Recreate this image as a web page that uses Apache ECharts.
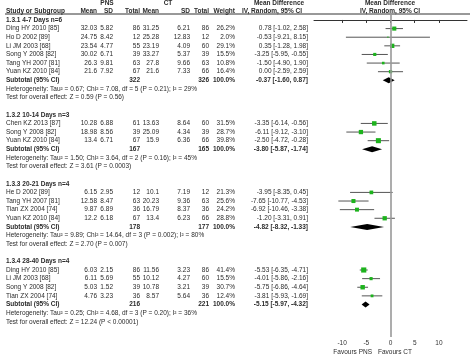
<!DOCTYPE html>
<html><head><meta charset="utf-8">
<script src="https://cdn.jsdelivr.net/npm/echarts@6/dist/echarts.min.js"></script>
<style>html,body{margin:0;padding:0;background:#fff}#c{width:474px;height:361px}</style>
</head><body><div id="c"></div>
<script>
// ---------- data ----------
const subTitles = ["1.3.1 4-7 Days n=6", "1.3.2 10-14 Days n=3", "1.3.3 20-21 Days n=4", "1.3.4 28-40 Days n=4"];
const studyGroup = [0,0,0,0,0,0, 1,1,1, 2,2,2,2, 3,3,3,3];
const studyNames = ["Ding HY 2010 [85]","Ho D 2002 [89]","Li JM 2003 [68]","Song Y 2008 [82]","Tang YH 2007 [81]","Yuan KZ 2010 [84]",
  "Chen KZ 2013 [87]","Song Y 2008 [82]","Yuan KZ 2010 [84]",
  "He D 2002 [89]","Tang YH 2007 [81]","Tian ZX 2004 [74]","Yuan KZ 2010 [84]",
  "Ding HY 2010 [85]","Li JM 2003 [68]","Song Y 2008 [82]","Tian ZX 2004 [74]"];
const pnsMean  = [32.03,24.75,23.54,30.02,26.3,21.6, 10.28,18.98,13.4, 6.15,12.58,9.87,12.2, 6.03,6.11,5.03,4.76];
const pnsSD    = [5.82,8.42,4.77,6.71,9.81,7.92, 6.88,8.56,6.71, 2.95,8.47,6.89,6.18, 2.15,5.69,1.52,3.23];
const pnsTotal = [86,12,55,39,63,67, 61,39,67, 12,63,36,67, 86,55,39,36];
const ctMean   = [31.25,25.28,23.19,33.27,27.8,21.6, 13.63,25.09,15.9, 10.1,20.23,16.79,13.4, 11.56,10.12,10.78,8.57];
const ctSD     = [6.21,12.83,4.09,5.37,9.66,7.33, 8.64,4.34,6.36, 7.19,9.36,8.37,6.23, 3.23,4.27,3.21,5.64];
const ctTotal  = [86,12,60,39,63,66, 60,39,66, 12,63,36,66, 86,60,39,36];
const weight   = [26.2,2.0,29.1,15.5,10.8,16.4, 31.5,28.7,39.8, 21.3,25.6,24.2,28.8, 41.4,15.5,30.7,12.4];
const md       = [0.78,-0.53,0.35,-3.25,-1.50,0.00, -3.35,-6.11,-2.50, -3.95,-7.65,-6.92,-1.20, -5.53,-4.01,-5.75,-3.81];
const ciLow    = [-1.02,-9.21,-1.28,-5.95,-4.90,-2.59, -6.14,-9.12,-4.72, -8.35,-10.77,-10.46,-3.31, -6.35,-5.86,-6.86,-5.93];
const ciHigh   = [2.58,8.15,1.98,-0.55,1.90,2.59, -0.56,-3.10,-0.28, 0.45,-4.53,-3.38,0.91, -4.71,-2.16,-4.64,-1.69];
const subPnsTotal = [322,167,178,216];
const subCtTotal  = [326,165,177,221];
const subMD   = [-0.37,-3.80,-4.82,-5.15];
const subLow  = [-1.60,-5.87,-8.32,-5.97];
const subHigh = [0.87,-1.74,-1.33,-4.32];
const hetText = [
  "Heterogeneity: Tau\u00b2 = 0.67; Chi\u00b2 = 7.08, df = 5 (P = 0.21); I\u00b2 = 29%",
  "Heterogeneity: Tau\u00b2 = 1.50; Chi\u00b2 = 3.64, df = 2 (P = 0.16); I\u00b2 = 45%",
  "Heterogeneity: Tau\u00b2 = 9.89; Chi\u00b2 = 14.64, df = 3 (P = 0.002); I\u00b2 = 80%",
  "Heterogeneity: Tau\u00b2 = 0.25; Chi\u00b2 = 4.68, df = 3 (P = 0.20); I\u00b2 = 36%"];
const overallText = [
  "Test for overall effect: Z = 0.59 (P = 0.56)",
  "Test for overall effect: Z = 3.61 (P = 0.0003)",
  "Test for overall effect: Z = 2.70 (P = 0.007)",
  "Test for overall effect: Z = 12.24 (P < 0.00001)"];
const subgroupDiffText = "Test for subgroup differences: Chi\u00b2 = 40.18, df = 3 (P < 0.00001), I\u00b2 = 92.5%";
const axisTicks = [-10,-5,0,5,10];

// ---------- layout of rows ----------
const FONT = 'Liberation Sans, Arial, sans-serif';
const FS = 6.5;
const TXT = '#2b2b2b';
// column positions: [x, align]
const COLS = [[6,'left'],[97,'right'],[113,'right'],[140,'right'],[159,'right'],[190,'right'],[209,'right'],[235,'right'],[308,'right']];
const fmtCI = (m,l,h) => m.toFixed(2) + ' [' + l.toFixed(2) + ', ' + h.toFixed(2) + ']';

const textRows = [];
const studyRows = [];
const diamondRows = [];
textRows.push({row:-2, free:[[107,'center','PNS',true],[168,'center','CT',true],[279,'center','Mean Difference',true],[390,'center','Mean Difference',true]]});
textRows.push({row:-1, cells:['Study or Subgroup','Mean','SD','Total','Mean','SD','Total','Weight',''], bold:true,
  free:[[272,'center','IV, Random, 95% CI',true],[390,'center','IV, Random, 95% CI',true]]});
let r = 0;
for (let g = 0; g < subTitles.length; g++) {
  textRows.push({row:r, cells:[subTitles[g]], bold:true}); r++;
  for (let i = 0; i < studyNames.length; i++) {
    if (studyGroup[i] !== g) continue;
    textRows.push({row:r, cells:[studyNames[i], String(pnsMean[i]), String(pnsSD[i]), String(pnsTotal[i]),
      String(ctMean[i]), String(ctSD[i]), String(ctTotal[i]), weight[i].toFixed(1)+'%', fmtCI(md[i],ciLow[i],ciHigh[i])]});
    studyRows.push([r, md[i], ciLow[i], ciHigh[i], weight[i]]);
    r++;
  }
  textRows.push({row:r, cells:['Subtotal (95% CI)','','',String(subPnsTotal[g]),'','',String(subCtTotal[g]),'100.0%',fmtCI(subMD[g],subLow[g],subHigh[g])], bold:true});
  diamondRows.push([r, subMD[g], subLow[g], subHigh[g]]);
  r++;
  textRows.push({row:r, cells:[hetText[g]]}); r++;
  textRows.push({row:r, cells:[overallText[g]]}); r++;
  r++;
}
textRows.push({row:r + 3, cells:[subgroupDiffText]});

function textEl(x, y, s, align, bold) {
  return {type:'text', x:x, y:y, silent:true,
    style:{text:s, fill:TXT, fontSize:FS, fontFamily:FONT, fontWeight: bold ? 'bold':'normal', textAlign:align, textVerticalAlign:'middle'}};
}

const chart = echarts.init(document.getElementById('c'), null, {renderer:'canvas'});
chart.setOption({
  animation:false,
  backgroundColor:'#fff',
  grid:{left:314, width:153, top:13.5, height:323.5},
  xAxis:{type:'value', min:-15.8, max:15.8,
    axisLine:{show:true, lineStyle:{color:'#333', width:1}},
    axisTick:{show:true, customValues:axisTicks, length:3, lineStyle:{color:'#333'}},
    axisLabel:{show:true, customValues:axisTicks, fontSize:FS, fontFamily:FONT, color:'#333', margin:3},
    splitLine:{show:false}},
  yAxis:{type:'value', inverse:true, min:-0.75, max:36.77, show:false},
  graphic:[
    {type:'line', shape:{x1:5, y1:14, x2:470, y2:14}, style:{stroke:'#333', lineWidth:1}},
    {type:'text', x:372, y:352, style:{text:'Favours PNS', fill:TXT, fontSize:FS, fontFamily:FONT, textAlign:'right', textVerticalAlign:'middle'}},
    {type:'text', x:378, y:352, style:{text:'Favours CT', fill:TXT, fontSize:FS, fontFamily:FONT, textAlign:'left', textVerticalAlign:'middle'}}
  ],
  series:[
    {type:'custom', clip:false, silent:true, z:5,
      data: textRows.map((t,i)=>[0, t.row, i]),
      renderItem:function(params, api){
        const t = textRows[api.value(2)];
        const y = api.coord([0, api.value(1)])[1];
        const children = [];
        (t.cells||[]).forEach((s, c) => { if (s) children.push(textEl(COLS[c][0], y, s, COLS[c][1], t.bold)); });
        (t.free||[]).forEach(f => children.push(textEl(f[0], y, f[2], f[1], f[3])));
        return {type:'group', children:children};
      }},
    {type:'custom', clip:false, silent:true, z:3,
      data: studyRows,
      markLine:{silent:true, symbol:'none', label:{show:false}, lineStyle:{color:'#999', width:1.6, type:'solid'}, data:[{xAxis:0}]},
      renderItem:function(params, api){
        const row = api.value(0);
        const c = api.coord([api.value(1), row]);
        const lo = api.coord([api.value(2), row]);
        const hi = api.coord([api.value(3), row]);
        const s = Math.max(1.2, 0.8*Math.sqrt(api.value(4)));
        return {type:'group', children:[
          {type:'line', shape:{x1:lo[0], y1:c[1], x2:hi[0], y2:c[1]}, style:{stroke:'#555', lineWidth:1}},
          {type:'rect', shape:{x:c[0]-s/2, y:c[1]-s/2, width:s, height:s}, style:{fill:'#1db31d'}}
        ]};
      }},
    {type:'custom', clip:false, silent:true, z:4,
      data: diamondRows,
      renderItem:function(params, api){
        const row = api.value(0);
        const c = api.coord([api.value(1), row]);
        const lo = api.coord([api.value(2), row]);
        const hi = api.coord([api.value(3), row]);
        const h = 3;
        return {type:'polygon', shape:{points:[[lo[0],c[1]],[c[0],c[1]-h],[hi[0],c[1]],[c[0],c[1]+h]]}, style:{fill:'#000'}};
      }}
  ]
});
</script></body></html>
